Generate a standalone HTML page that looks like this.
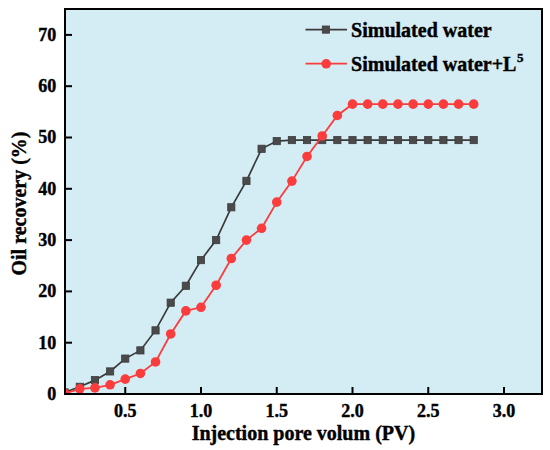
<!DOCTYPE html>
<html><head><meta charset="utf-8"><style>
html,body{margin:0;padding:0;background:#fff;}
svg{display:block;}
text{font-family:"Liberation Serif",serif;font-weight:bold;fill:#000;stroke:#000;stroke-width:0.4px;}
</style></head><body>
<svg width="550" height="450" viewBox="0 0 550 450">
<defs><clipPath id="c"><rect x="66" y="10" width="475" height="383"/></clipPath></defs>
<rect x="65" y="9" width="477" height="385" fill="#d4ecf4"/>
<g clip-path="url(#c)">
<polyline points="64.65,392.46 79.80,386.82 94.95,380.15 110.10,371.43 125.25,358.60 140.40,350.39 155.55,330.39 170.70,302.69 185.85,285.76 201.00,260.11 216.15,240.10 231.30,207.27 246.45,180.85 261.60,148.79 276.75,141.09 291.90,140.06 307.05,140.06 322.20,140.06 337.35,140.06 352.50,140.06 367.65,140.06 382.80,140.06 397.95,140.06 413.10,140.06 428.25,140.06 443.40,140.06 458.55,140.06 473.70,140.06" fill="none" stroke="#3a3a3a" stroke-width="1.7"/>

<rect x="61.05" y="388.86" width="7.2" height="7.2" fill="#4a4a4a" stroke="#3c3c3c" stroke-width="0.8"/>
<rect x="76.20" y="383.22" width="7.2" height="7.2" fill="#4a4a4a" stroke="#3c3c3c" stroke-width="0.8"/>
<rect x="91.35" y="376.55" width="7.2" height="7.2" fill="#4a4a4a" stroke="#3c3c3c" stroke-width="0.8"/>
<rect x="106.50" y="367.83" width="7.2" height="7.2" fill="#4a4a4a" stroke="#3c3c3c" stroke-width="0.8"/>
<rect x="121.65" y="355.00" width="7.2" height="7.2" fill="#4a4a4a" stroke="#3c3c3c" stroke-width="0.8"/>
<rect x="136.80" y="346.79" width="7.2" height="7.2" fill="#4a4a4a" stroke="#3c3c3c" stroke-width="0.8"/>
<rect x="151.95" y="326.79" width="7.2" height="7.2" fill="#4a4a4a" stroke="#3c3c3c" stroke-width="0.8"/>
<rect x="167.10" y="299.09" width="7.2" height="7.2" fill="#4a4a4a" stroke="#3c3c3c" stroke-width="0.8"/>
<rect x="182.25" y="282.16" width="7.2" height="7.2" fill="#4a4a4a" stroke="#3c3c3c" stroke-width="0.8"/>
<rect x="197.40" y="256.51" width="7.2" height="7.2" fill="#4a4a4a" stroke="#3c3c3c" stroke-width="0.8"/>
<rect x="212.55" y="236.50" width="7.2" height="7.2" fill="#4a4a4a" stroke="#3c3c3c" stroke-width="0.8"/>
<rect x="227.70" y="203.67" width="7.2" height="7.2" fill="#4a4a4a" stroke="#3c3c3c" stroke-width="0.8"/>
<rect x="242.85" y="177.25" width="7.2" height="7.2" fill="#4a4a4a" stroke="#3c3c3c" stroke-width="0.8"/>
<rect x="258.00" y="145.19" width="7.2" height="7.2" fill="#4a4a4a" stroke="#3c3c3c" stroke-width="0.8"/>
<rect x="273.15" y="137.49" width="7.2" height="7.2" fill="#4a4a4a" stroke="#3c3c3c" stroke-width="0.8"/>
<rect x="288.30" y="136.47" width="7.2" height="7.2" fill="#4a4a4a" stroke="#3c3c3c" stroke-width="0.8"/>
<rect x="303.45" y="136.47" width="7.2" height="7.2" fill="#4a4a4a" stroke="#3c3c3c" stroke-width="0.8"/>
<rect x="318.60" y="136.47" width="7.2" height="7.2" fill="#4a4a4a" stroke="#3c3c3c" stroke-width="0.8"/>
<rect x="333.75" y="136.47" width="7.2" height="7.2" fill="#4a4a4a" stroke="#3c3c3c" stroke-width="0.8"/>
<rect x="348.90" y="136.47" width="7.2" height="7.2" fill="#4a4a4a" stroke="#3c3c3c" stroke-width="0.8"/>
<rect x="364.05" y="136.47" width="7.2" height="7.2" fill="#4a4a4a" stroke="#3c3c3c" stroke-width="0.8"/>
<rect x="379.20" y="136.47" width="7.2" height="7.2" fill="#4a4a4a" stroke="#3c3c3c" stroke-width="0.8"/>
<rect x="394.35" y="136.47" width="7.2" height="7.2" fill="#4a4a4a" stroke="#3c3c3c" stroke-width="0.8"/>
<rect x="409.50" y="136.47" width="7.2" height="7.2" fill="#4a4a4a" stroke="#3c3c3c" stroke-width="0.8"/>
<rect x="424.65" y="136.47" width="7.2" height="7.2" fill="#4a4a4a" stroke="#3c3c3c" stroke-width="0.8"/>
<rect x="439.80" y="136.47" width="7.2" height="7.2" fill="#4a4a4a" stroke="#3c3c3c" stroke-width="0.8"/>
<rect x="454.95" y="136.47" width="7.2" height="7.2" fill="#4a4a4a" stroke="#3c3c3c" stroke-width="0.8"/>
<rect x="470.10" y="136.47" width="7.2" height="7.2" fill="#4a4a4a" stroke="#3c3c3c" stroke-width="0.8"/>
<polyline points="64.65,393.49 79.80,388.87 94.95,387.84 110.10,384.77 125.25,379.12 140.40,373.48 155.55,361.94 170.70,333.98 185.85,310.89 201.00,307.30 216.15,285.24 231.30,258.57 246.45,240.10 261.60,228.30 276.75,202.14 291.90,181.11 307.05,156.48 322.20,135.96 337.35,115.44 352.50,104.16 367.65,104.16 382.80,104.16 397.95,104.16 413.10,104.16 428.25,104.16 443.40,104.16 458.55,104.16 473.70,104.16" fill="none" stroke="#fa3c3c" stroke-width="1.8"/>
<circle cx="64.65" cy="393.49" r="4.8" fill="#fa3c3c"/>
<circle cx="79.80" cy="388.87" r="4.8" fill="#fa3c3c"/>
<circle cx="94.95" cy="387.84" r="4.8" fill="#fa3c3c"/>
<circle cx="110.10" cy="384.77" r="4.8" fill="#fa3c3c"/>
<circle cx="125.25" cy="379.12" r="4.8" fill="#fa3c3c"/>
<circle cx="140.40" cy="373.48" r="4.8" fill="#fa3c3c"/>
<circle cx="155.55" cy="361.94" r="4.8" fill="#fa3c3c"/>
<circle cx="170.70" cy="333.98" r="4.8" fill="#fa3c3c"/>
<circle cx="185.85" cy="310.89" r="4.8" fill="#fa3c3c"/>
<circle cx="201.00" cy="307.30" r="4.8" fill="#fa3c3c"/>
<circle cx="216.15" cy="285.24" r="4.8" fill="#fa3c3c"/>
<circle cx="231.30" cy="258.57" r="4.8" fill="#fa3c3c"/>
<circle cx="246.45" cy="240.10" r="4.8" fill="#fa3c3c"/>
<circle cx="261.60" cy="228.30" r="4.8" fill="#fa3c3c"/>
<circle cx="276.75" cy="202.14" r="4.8" fill="#fa3c3c"/>
<circle cx="291.90" cy="181.11" r="4.8" fill="#fa3c3c"/>
<circle cx="307.05" cy="156.48" r="4.8" fill="#fa3c3c"/>
<circle cx="322.20" cy="135.96" r="4.8" fill="#fa3c3c"/>
<circle cx="337.35" cy="115.44" r="4.8" fill="#fa3c3c"/>
<circle cx="352.50" cy="104.16" r="4.8" fill="#fa3c3c"/>
<circle cx="367.65" cy="104.16" r="4.8" fill="#fa3c3c"/>
<circle cx="382.80" cy="104.16" r="4.8" fill="#fa3c3c"/>
<circle cx="397.95" cy="104.16" r="4.8" fill="#fa3c3c"/>
<circle cx="413.10" cy="104.16" r="4.8" fill="#fa3c3c"/>
<circle cx="428.25" cy="104.16" r="4.8" fill="#fa3c3c"/>
<circle cx="443.40" cy="104.16" r="4.8" fill="#fa3c3c"/>
<circle cx="458.55" cy="104.16" r="4.8" fill="#fa3c3c"/>
<circle cx="473.70" cy="104.16" r="4.8" fill="#fa3c3c"/>
</g>
<rect x="65" y="9" width="477" height="385" fill="none" stroke="#000" stroke-width="2"/>
<text x="56.2" y="399.80" font-size="18" text-anchor="end">0</text>
<line x1="66" y1="342.70" x2="72" y2="342.70" stroke="#000" stroke-width="2"/>
<text x="56.2" y="348.50" font-size="18" text-anchor="end">10</text>
<line x1="66" y1="291.40" x2="72" y2="291.40" stroke="#000" stroke-width="2"/>
<text x="56.2" y="297.20" font-size="18" text-anchor="end">20</text>
<line x1="66" y1="240.10" x2="72" y2="240.10" stroke="#000" stroke-width="2"/>
<text x="56.2" y="245.90" font-size="18" text-anchor="end">30</text>
<line x1="66" y1="188.80" x2="72" y2="188.80" stroke="#000" stroke-width="2"/>
<text x="56.2" y="194.60" font-size="18" text-anchor="end">40</text>
<line x1="66" y1="137.50" x2="72" y2="137.50" stroke="#000" stroke-width="2"/>
<text x="56.2" y="143.30" font-size="18" text-anchor="end">50</text>
<line x1="66" y1="86.20" x2="72" y2="86.20" stroke="#000" stroke-width="2"/>
<text x="56.2" y="92.00" font-size="18" text-anchor="end">60</text>
<line x1="66" y1="34.90" x2="72" y2="34.90" stroke="#000" stroke-width="2"/>
<text x="56.2" y="40.70" font-size="18" text-anchor="end">70</text>
<line x1="125.25" y1="393" x2="125.25" y2="387" stroke="#000" stroke-width="2"/>
<text x="125.25" y="416.6" font-size="18" text-anchor="middle">0.5</text>
<line x1="201.00" y1="393" x2="201.00" y2="387" stroke="#000" stroke-width="2"/>
<text x="201.00" y="416.6" font-size="18" text-anchor="middle">1.0</text>
<line x1="276.75" y1="393" x2="276.75" y2="387" stroke="#000" stroke-width="2"/>
<text x="276.75" y="416.6" font-size="18" text-anchor="middle">1.5</text>
<line x1="352.50" y1="393" x2="352.50" y2="387" stroke="#000" stroke-width="2"/>
<text x="352.50" y="416.6" font-size="18" text-anchor="middle">2.0</text>
<line x1="428.25" y1="393" x2="428.25" y2="387" stroke="#000" stroke-width="2"/>
<text x="428.25" y="416.6" font-size="18" text-anchor="middle">2.5</text>
<line x1="504.00" y1="393" x2="504.00" y2="387" stroke="#000" stroke-width="2"/>
<text x="504.00" y="416.6" font-size="18" text-anchor="middle">3.0</text>
<text x="303.4" y="440.2" font-size="20" text-anchor="middle">Injection pore volum (PV)</text>
<text transform="translate(25.5,203.5) rotate(-90)" x="0" y="0" font-size="20" text-anchor="middle">Oil recovery (%)</text>
<line x1="305.5" y1="29.7" x2="347" y2="29.7" stroke="#3a3a3a" stroke-width="1.7"/>
<rect x="322.3" y="26.0" width="7.2" height="7.2" fill="#4a4a4a" stroke="#3c3c3c" stroke-width="0.8"/>
<text x="351.1" y="36.8" font-size="20">Simulated water</text>
<line x1="305.5" y1="63.6" x2="347" y2="63.6" stroke="#fa3c3c" stroke-width="1.8"/>
<circle cx="326.2" cy="63.8" r="4.8" fill="#fa3c3c"/>
<text x="351.1" y="70.5" font-size="20">Simulated water+L<tspan font-size="13" dx="0.6" dy="-9">5</tspan></text>
</svg></body></html>
